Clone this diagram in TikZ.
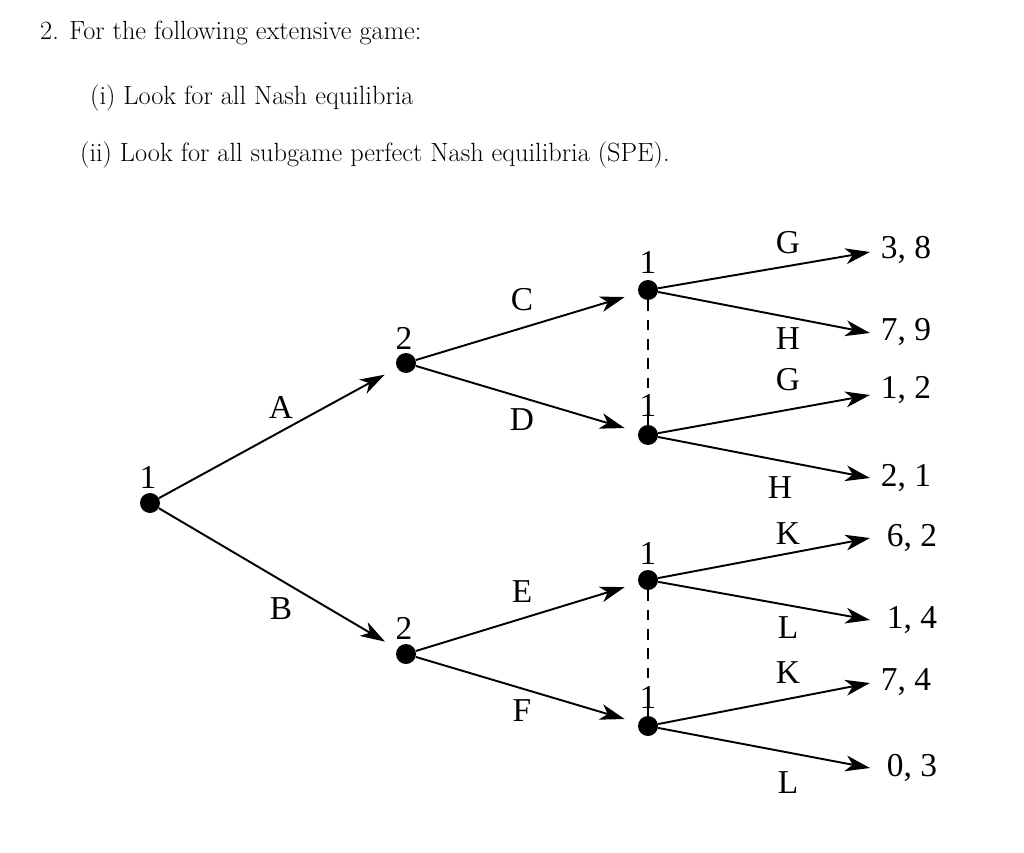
\documentclass[tikz,border=0pt]{standalone}
\usepackage{fontspec}
\newfontfamily\tms{Liberation Serif}
\usetikzlibrary{arrows.meta}
\begin{document}
\begin{tikzpicture}[x=0.02cm,y=-0.02cm,
  dot/.style={circle,fill=black,inner sep=0pt,minimum size=0.4cm},
  edge/.style={line width=1.1pt,-{Stealth[length=14pt,width=9pt,inset=4pt]},shorten >=8pt},
  lab/.style={font=\tms\fontsize{19}{22}\selectfont},
  txt/.style={font=\fontsize{15}{18}\selectfont,anchor=west}]
\useasboundingbox (0,0) rectangle (1024,852);
\node[txt] (t0) at (34,33) {2. For the following extensive game:};
\node[txt] (t1) at (84,98) {(i) Look for all Nash equilibria};
\node[txt] (t2) at (74,155) {(ii) Look for all subgame perfect Nash equilibria (SPE).};
\node[dot] (r) at (150,503) {};
\node[dot] (a) at (406,363) {};
\node[dot] (b) at (406,654) {};
\node[dot] (c) at (648,290) {};
\node[dot] (d) at (648,435) {};
\node[dot] (e) at (648,580) {};
\node[dot] (f) at (648,726) {};
\foreach \n/\x/\y in {t1/870/252,t2/870/333,t3/870/395,t4/870/478,t5/870/538,t6/870/620,t7/870/683,t8/870/768}
  \coordinate (\n) at (\x,\y);
\draw[edge] (r) -- (a); \draw[edge] (r) -- (b);
\draw[edge] (a) -- (c); \draw[edge] (a) -- (d);
\draw[edge] (b) -- (e); \draw[edge] (b) -- (f);
\draw[edge,shorten >=0pt] (c) -- (t1); \draw[edge,shorten >=0pt] (c) -- (t2);
\draw[edge,shorten >=0pt] (d) -- (t3); \draw[edge,shorten >=0pt] (d) -- (t4);
\draw[edge,shorten >=0pt] (e) -- (t5); \draw[edge,shorten >=0pt] (e) -- (t6);
\draw[edge,shorten >=0pt] (f) -- (t7); \draw[edge,shorten >=0pt] (f) -- (t8);
\draw[line width=1.1pt,dash pattern=on 6pt off 5pt] (c) -- (d);
\draw[line width=1.1pt,dash pattern=on 6pt off 5pt] (e) -- (f);
\foreach \t/\x/\y in {1/148/477,A/281/407,B/281/609,2/404/338,2/404/628,C/522/300,D/522/420,E/522/592,F/522/711,
  1/648/262,1/648/405,1/648/553,1/648/697,G/788/243,H/788/339,G/788/380,H/780/488,K/788/534,L/788/628,K/788/673,L/788/783,
  {3, 8}/906/250,{7, 9}/906/332,{1, 2}/906/390,{2, 1}/906/478,{6, 2}/912/538,{1, 4}/912/620,{7, 4}/906/682,{0, 3}/912/768}
  \node[lab] at (\x,\y) {\t};
\end{tikzpicture}
\end{document}
